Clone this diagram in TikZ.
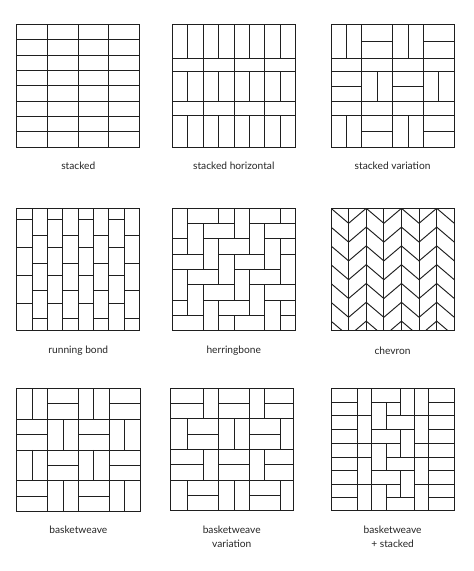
\documentclass[tikz,border=0pt]{standalone}
\usepackage{fontspec}
\setmainfont{Lato}
\begin{document}
\begin{tikzpicture}[x=1pt,y=-1pt, color=black!88, line width=0.95pt,
  lbl/.style={font=\fontsize{10.2}{13.3}\selectfont, text=black!85, align=center, inner sep=0pt}]
\useasboundingbox[fill=white,draw=none] (0,0) rectangle (474,571);

% 1 stacked
\begin{scope}[shift={(16.8,24.3)}, x=15.33pt, y=-15.36pt]
  \draw (0,0) rectangle (8,8);
  \foreach \x in {2,4,6} \draw (\x,0) -- (\x,8);
  \foreach \y in {1,...,7} \draw (0,\y) -- (8,\y);
\end{scope}

% 2 stacked horizontal
\begin{scope}[shift={(172.3,24.3)}, x=15.42pt, y=-15.36pt]
  \draw (0,0) rectangle (8,8);
  \foreach \y in {2.2,3.1,5.0,5.95} \draw (0,\y) -- (8,\y);
  \foreach \x in {2,4,6} \draw (\x,0) -- (\x,8);
  \foreach \x in {1,3,5,7} \draw (\x,0) -- (\x,2.2) (\x,3.1) -- (\x,5.0) (\x,5.95) -- (\x,8);
\end{scope}

% 3 stacked variation
\begin{scope}[shift={(331,24.3)}, x=15.42pt, y=-15.36pt]
  \draw (0,0) rectangle (8,8);
  \foreach \y in {2.2,3.1,5.0,5.95} \draw (0,\y) -- (8,\y);
  \foreach \x in {2,4,6} \draw (\x,0) -- (\x,8);
  \draw (1,0) -- (1,2.2) (5,0) -- (5,2.2) (2,1.1) -- (4,1.1) (6,1.1) -- (8,1.1);
  \draw (0,4.06) -- (2,4.06) (4,4.06) -- (6,4.06) (3,3.1) -- (3,5.0) (7,3.1) -- (7,5.0);
  \draw (1,5.95) -- (1,8) (5,5.95) -- (5,8) (2,6.98) -- (4,6.98) (6,6.98) -- (8,6.98);
\end{scope}

% 4 running bond
\begin{scope}[shift={(16.8,208.3)}, x=15.33pt, y=-15.3pt]
  \draw (0,0) rectangle (8,8);
  \foreach \x in {1,...,7} \draw (\x,0) -- (\x,8);
  \foreach \c in {0,2,4,6} \foreach \y in {0.76,2.57,4.40,6.21} \draw (\c,\y) -- ++(1,0);
  \foreach \c in {1,3,5,7} \foreach \y in {1.79,3.59,5.40,7.23} \draw (\c,\y) -- ++(1,0);
\end{scope}

% 5 herringbone
\begin{scope}[shift={(172.3,208.3)}, x=15.42pt, y=-15.33pt]
  \begin{scope}
    \clip (0,0) rectangle (8,8);
    \foreach \c/\r in {3/-1,7/-1,0/0,4/0,1/1,5/1,2/2,6/2,3/3,7/3,0/4,4/4,1/5,5/5,2/6,6/6,3/7,7/7}
      \draw (\c,\r) rectangle ++(1,2);
    \foreach \c/\r in {1/0,5/0,2/1,6/1,3/2,7/2,-1/2,0/3,4/3,1/4,5/4,2/5,6/5,3/6,7/6,-1/6,0/7,4/7}
      \draw (\c,\r) rectangle ++(2,1);
  \end{scope}
  \draw (0,0) rectangle (8,8);
\end{scope}

% 6 chevron
\begin{scope}[shift={(331,208.3)}]
  \begin{scope}
    \clip (0,0) rectangle (123.3,122.4);
    \foreach \k in {0,...,6} {
      \foreach \j in {0,2,4,6} \draw ({\j*17.614},{\k*18.8}) -- ({(\j+1)*17.614},{\k*18.8+15});
      \foreach \j in {1,3,5} \draw ({\j*17.614},{\k*18.8+15}) -- ({(\j+1)*17.614},{\k*18.8});
    }
  \end{scope}
  \foreach \j in {1,...,6} \draw ({\j*17.614},0) -- ({\j*17.614},122.4);
  \draw (0,0) rectangle (123.3,122.4);
\end{scope}

% 7 basketweave
\begin{scope}[shift={(16.8,388.3)}, x=15.41pt, y=-15.42pt]
  \draw (0,0) rectangle (8,8);
  \foreach \v in {2,4,6} \draw (\v,0) -- (\v,8) (0,\v) -- (8,\v);
  \foreach \r/\c in {0/0,0/2,1/1,1/3,2/0,2/2,3/1,3/3} \draw ({2*\c+1},{2*\r}) -- ++(0,2);
  \foreach \r/\c in {0/1,0/3,1/0,1/2,2/1,2/3,3/0,3/2} \draw ({2*\c},{2*\r+1}) -- ++(2,0);
\end{scope}

% 8 basketweave variation
\begin{scope}[shift={(170,388.3)}, x=15.41pt, y=-15.33pt]
  \foreach \v in {2,4,6} \draw (0,\v) -- (8,\v);
  \foreach \r in {0,2} {
    \foreach \x in {2.16,3.16,5.16,6.16} \draw (\x,{2*\r}) -- ++(0,2);
    \draw (0,{2*\r+1}) -- (2.16,{2*\r+1}) (3.16,{2*\r+1}) -- (5.16,{2*\r+1}) (6.16,{2*\r+1}) -- (8,{2*\r+1});
  }
  \foreach \r in {1,3} {
    \foreach \x in {1.16,3.16,4.16,5.16,7.16} \draw (\x,{2*\r}) -- ++(0,2);
    \foreach \x in {1.16,5.16} \draw (\x,{2*\r+1}) -- ++(2,0);
  }
  \draw (0,0) rectangle (8,8);
\end{scope}

% 9 basketweave + stacked
\begin{scope}[shift={(325,383)}, x=0.3333pt, y=-0.3333pt]
  \draw (18,15) rectangle (387,383);
  \foreach \x in {97,140,268,310} \draw (\x,15) -- (\x,383);
  \foreach \y in {57,98,140,180,222,262,303,343} \draw (18,\y) -- (97,\y) (310,\y) -- (387,\y);
  \foreach \y in {98,180,222,303} \draw (97,\y) -- (140,\y) (268,\y) -- (310,\y);
  \foreach \a/\b/\c/\d in {15/57/98/140,140/180/222/262,262/303/343/383} {
    \draw (140,\a) -- (268,\a);
    \draw (140,\b) -- (225,\b);
    \draw (183,\c) -- (268,\c);
    \draw (225,\a) -- (225,\c);
    \draw (183,\b) -- (183,\d);
  }
\end{scope}

% labels
\node[lbl] (l1) at (78.3,166) {stacked};
\node[lbl] (l2) at (233.8,166) {stacked horizontal};
\node[lbl] (l3) at (392.6,166) {stacked variation};
\node[lbl] (l4) at (78.3,351) {running bond};
\node[lbl] (l5) at (233.8,351) {herringbone};
\node[lbl] (l6) at (392.6,351) {chevron};
\node[lbl] (l7) at (78.3,530) {basketweave};
\node[lbl] (l8) at (231.7,536.7) {basketweave\\variation};
\node[lbl] (l9) at (392.6,536.7) {basketweave\\+ stacked};
\end{tikzpicture}
\end{document}
